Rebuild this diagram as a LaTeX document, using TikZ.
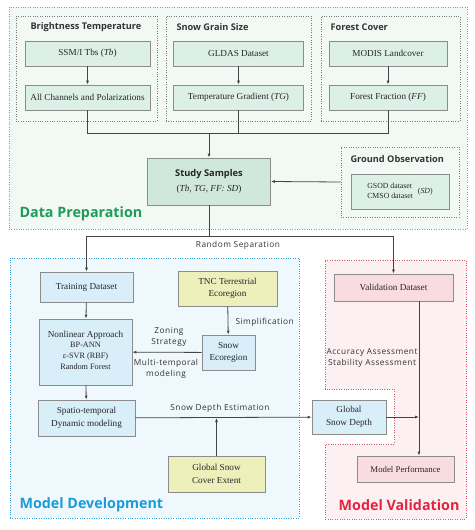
\documentclass[tikz,border=0pt]{standalone}
\usepackage{fontspec}
\setmainfont{Liberation Serif}
\setsansfont{Open Sans}
\newfontfamily\lblfont[LetterSpace=6]{Open Sans}
\usetikzlibrary{arrows.meta}

\definecolor{prepfill}{HTML}{F2F9F5}
\definecolor{prepline}{HTML}{5DBB8A}
\definecolor{gboxfill}{HTML}{DDF0E7}
\definecolor{studyfill}{HTML}{CFE8DB}
\definecolor{devfill}{HTML}{EFF8FC}
\definecolor{devline}{HTML}{2FA3D8}
\definecolor{bboxfill}{HTML}{D8EEF9}
\definecolor{yboxfill}{HTML}{EEF0BC}
\definecolor{valfill}{HTML}{FDF0F2}
\definecolor{valline}{HTML}{D9596B}
\definecolor{pboxfill}{HTML}{F9DCE0}
\definecolor{boxline}{HTML}{8C8C8C}
\definecolor{grpline}{HTML}{7A7A7A}
\definecolor{edgecol}{HTML}{444444}
\definecolor{prepcol}{HTML}{1E9B57}
\definecolor{devcol}{HTML}{1D9BD7}
\definecolor{valcol}{HTML}{E1253F}

\begin{document}
\begin{tikzpicture}[x=1pt,y=-1pt]
        \tikzstyle{box}=[rectangle, draw=boxline, line width=0.7pt, inner sep=1pt, align=center, font=\fontsize{9.2}{12.5}\selectfont, text=black!85]
        \tikzstyle{gbox}=[box, fill=gboxfill]
        \tikzstyle{bbox}=[box, fill=bboxfill]
        \tikzstyle{ybox}=[box, fill=yboxfill]
        \tikzstyle{pbox}=[box, fill=pboxfill]
        \tikzstyle{grp}=[rectangle, draw=grpline, dash pattern=on 0.8pt off 1.6pt, line width=0.7pt]
        \tikzstyle{grptitle}=[anchor=west, font=\sffamily\bfseries\fontsize{9.2}{11}\selectfont, text=black!80]
        \tikzstyle{zone}=[anchor=west, font=\sffamily\bfseries\fontsize{14.3}{17}\selectfont]
        \tikzstyle{lbl}=[font=\lblfont\fontsize{8.3}{11}\selectfont, text=black!80, align=center]
        \tikzstyle{edge}=[draw=edgecol, line width=0.8pt]
        \tikzstyle{arr}=[edge, -{Latex[length=4pt,width=3pt]}]

        \useasboundingbox (0,0) rectangle (474,530);

        % background zones
        \node[grp, draw=prepline, fill=prepfill, minimum width=458, minimum height=222] (prep) at (238,118) {};
        \node[grp, draw=devline, fill=devfill, minimum width=289, minimum height=260] (dev) at (154.5,388) {};
        \filldraw[grp, draw=valline, fill=valfill] (325,260) -- (466,260) -- (466,519) -- (325,519) -- (325,444) -- (394,444) -- (394,389) -- (325,389) -- cycle;

        % data preparation
        \node[grp, minimum width=141, minimum height=105] (btgrp) at (86.5,68.5) {};
        \node[grp, minimum width=145, minimum height=105] (sggrp) at (238.5,68.5) {};
        \node[grp, minimum width=139, minimum height=105] (fcgrp) at (390.5,68.5) {};
        \node[grptitle] (bttitle) at (27,27) {Brightness Temperature};
        \node[grptitle] (sgtitle) at (173,27) {Snow Grain Size};
        \node[grptitle] (fctitle) at (327,27) {Forest Cover};

        \node[gbox, minimum width=125, minimum height=25] (tb) at (87.5,53.5) {SSM/I Tbs (\textit{Tb})};
        \node[gbox, minimum width=125, minimum height=25] (ch) at (87.5,97.5) {All Channels and Polarizations};
        \node[gbox, minimum width=130, minimum height=25] (gl) at (238.5,53.5) {GLDAS Dataset};
        \node[gbox, minimum width=130, minimum height=25] (tg) at (238.5,97.5) {Temperature Gradient (\textit{TG})};
        \node[gbox, minimum width=118, minimum height=25] (mo) at (388,53.5) {MODIS Landcover};
        \node[gbox, minimum width=118, minimum height=25] (ff) at (388,97.5) {Forest Fraction (\textit{FF})};

        \node[gbox, fill=studyfill, minimum width=123, minimum height=47] (study) at (209,181.5)
            {{\sffamily\bfseries\fontsize{9.3}{11}\selectfont Study Samples}\\[3pt](\textit{Tb, TG, FF: SD})};

        \node[grp, minimum width=118, minimum height=70] (gobs) at (400,182) {};
        \node[grptitle] (gotitle) at (347,159) {Ground Observation};
        \node[gbox, minimum width=98, minimum height=35, font=\fontsize{7.8}{10}\selectfont] (gsod) at (400,191.5)
            {\begin{tabular}{@{}l@{}}GSOD dataset\\CMSO dataset\end{tabular}\hspace{5pt}(\textit{SD})};

        \node[zone, text=prepcol] (preplbl) at (16,214) {Data Preparation};

        \coordinate (mrg) at (209,133);
        \draw[edge] (ch.south) |- (mrg);
        \draw[edge] (ff.south) |- (mrg);
        \draw[edge] (tg.south) -- (tg.south |- mrg);
        \draw[arr] (tb) -- (ch);
        \draw[arr] (gl) -- (tg);
        \draw[arr] (mo) -- (ff);
        \draw[arr] (mrg) -- (study);
        \draw[arr] (gobs.west) -- (study.east);

        % model development
        \node[bbox, minimum width=93, minimum height=30] (train) at (86.5,287) {Training Dataset};
        \node[bbox, minimum width=93, minimum height=66] (nonlin) at (85.5,352)
            {Nonlinear Approach\\[0pt]{\fontsize{8.2}{11}\selectfont\begin{tabular}{@{}c@{}}BP-ANN\\ε-SVR (RBF)\\Random Forest\end{tabular}}};
        \node[bbox, minimum width=97, minimum height=36] (spatio) at (86.5,418) {Spatio-temporal\\Dynamic modeling};
        \node[ybox, minimum width=99, minimum height=35] (tnc) at (227.5,288.5) {TNC Terrestrial\\Ecoregion};
        \node[bbox, minimum width=53, minimum height=35] (seco) at (228.5,352.5) {Snow\\Ecoregion};
        \node[ybox, minimum width=97, minimum height=36] (gsce) at (216.5,474) {Global Snow\\Cover Extent};
        \node[bbox, minimum width=74, minimum height=34] (gsd) at (349,417) {Global\\Snow Depth};

        \node[zone, text=devcol] (devlbl) at (16,505) {Model Development};

        \draw[arr] (train) -- (nonlin);
        \draw[arr] (nonlin) -- (spatio);
        \draw[arr] (tnc) -- (seco);
        \draw[arr] (seco) -- (nonlin);
        \draw[arr] (spatio) -- (gsd);
        \draw[arr] (gsce.north) -- (gsce.north |- spatio.east);

        \node[lbl, anchor=west] (simp) at (232,322) {Simplification};
        \node[lbl] (zoning) at (169,337) {Zoning\\Strategy};
        \node[lbl] (multi) at (166,369) {Multi-temporal\\modeling};
        \node[lbl] (sde) at (220,408) {Snow Depth Estimation};

        % model validation
        \node[pbox, minimum width=119, minimum height=27] (valid) at (393.5,287.5) {Validation Dataset};
        \node[pbox, minimum width=97, minimum height=26, font=\fontsize{8.8}{10}\selectfont] (perf) at (405.5,469) {Model Performance};
        \node[zone, text=valcol, anchor=east] (vallbl) at (463,505) {Model Validation};

        \coordinate (vl) at ([xshift=25.5]valid.south);
        \draw[arr] (vl) -- (vl |- perf.north);
        \draw[arr] (gsd.east) -- (gsd.east -| vl);
        \node[lbl] (assess) at (372,358) {Accuracy Assessment\\Stability Assessment};

        % random separation
        \coordinate (sep) at (209,236);
        \draw[edge] (study) -- (sep);
        \draw[arr] (sep) -| (train);
        \draw[arr] (sep) -| (valid);
        \node[lbl] (rsep) at (238,245) {Random Separation};
\end{tikzpicture}
\end{document}
